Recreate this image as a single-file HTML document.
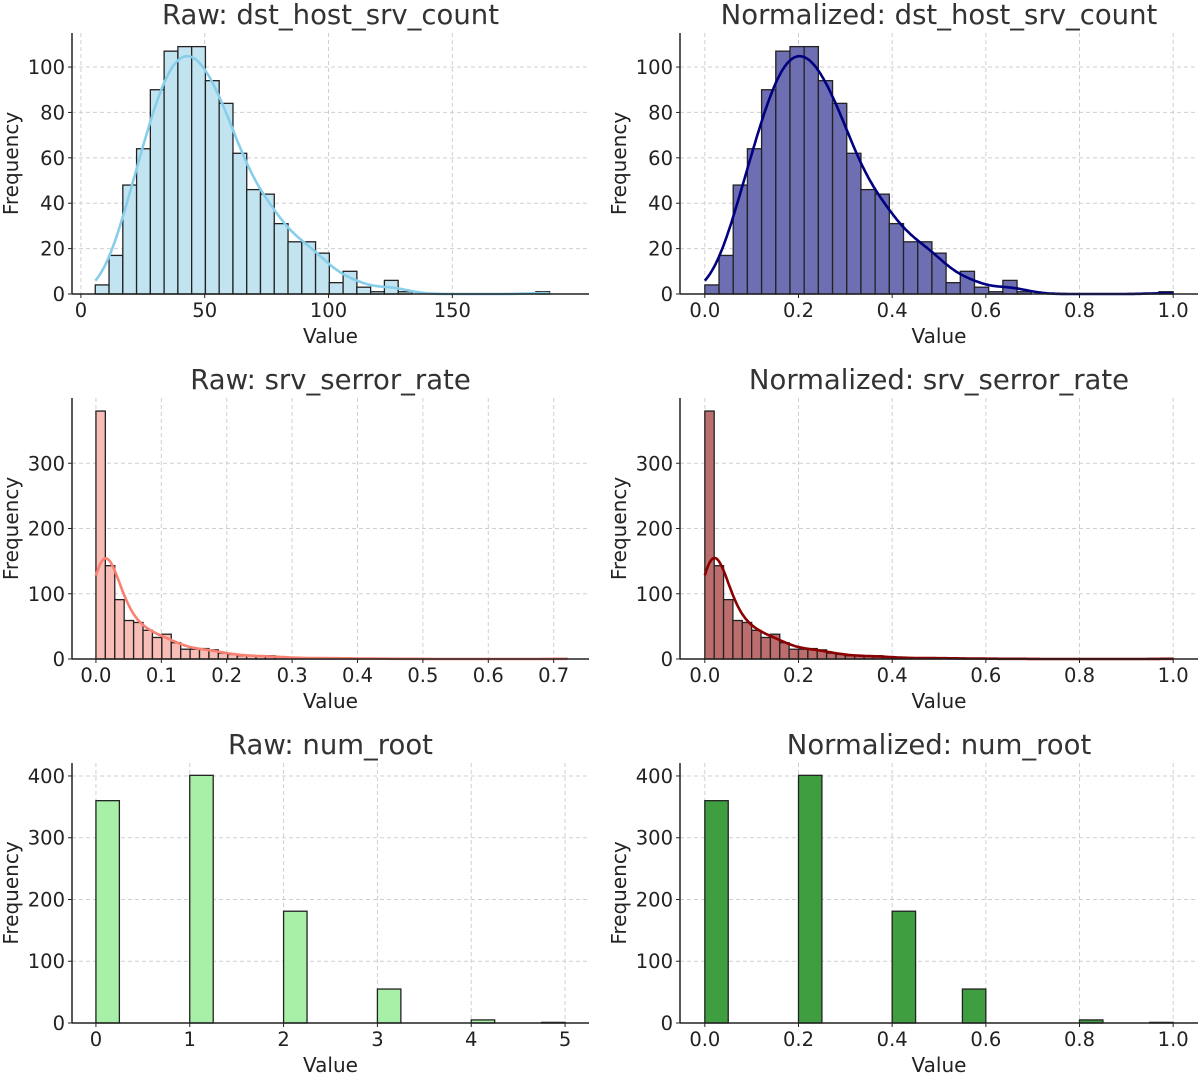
<!DOCTYPE html>
<html><head><meta charset="utf-8">
<style>
html,body{margin:0;padding:0;background:#fff;}
svg{display:block;font-family:"DejaVu Sans","Liberation Sans",sans-serif;}
</style></head>
<body>
<svg id="fig" width="1200" height="1074" viewBox="0 0 1200 1074" xmlns="http://www.w3.org/2000/svg"></svg>
<script>
// ---- data ----
const dstCounts = [4,17,48,64,90,107,109,109,94,84,62,46,44,31,23,23,18,5,10,3,1,6,1,0,0,0,0,0,0,0,0,0,1];
const srvCounts = [380,143,91,59,56,44,33,38,25,15,15,16,14,9,7,5,5,4,5,3,2,2,1,1,2,1,1,1,1,0,1,0,0,1,0,0,0,0,0,0,0,0,0,0,0,0,0,0,0,1];
const rootRawCounts = [360,0,0,0,401,0,0,0,181,0,0,0,55,0,0,0,5,0,0,1];
const rootNormCounts = [360,0,0,0,401,0,0,0,181,0,0,55,0,0,0,0,5,0,0,1];
const dstRawTicks = [0,50,100,150];
const normTicks = [0.0,0.2,0.4,0.6,0.8,1.0];
const srvRawTicks = [0.0,0.1,0.2,0.3,0.4,0.5,0.6,0.7];
const rootRawTicks = [0,1,2,3,4,5];
const yTicksTop = [0,20,40,60,80,100];
const yTicksMid = [0,100,200,300];
const yTicksBot = [0,100,200,300,400];

const NS = "http://www.w3.org/2000/svg";
const fig = document.getElementById('fig');
function mk(tag, attrs, parent){
  const e = document.createElementNS(NS, tag);
  for (const k in attrs) e.setAttribute(k, attrs[k]);
  (parent||fig).appendChild(e);
  return e;
}

function panel(cfg){
  const g = mk('g', {});
  
  
  const L = cfg.left, R = cfg.right, T = cfg.top, B = cfg.bottom;
  const sx = v => L + (v - cfg.xmin) / (cfg.xmax - cfg.xmin) * (R - L);
  const sy = v => B - (v / cfg.ymax) * (B - T);
  cfg.xticks.forEach(t => {
    const l = mk('line', {x1:sx(t), x2:sx(t), y1:T, y2:B, stroke:'#cfcfcf', 'stroke-width':1, 'stroke-dasharray':'4,3'}, g);
    
    
  });
  cfg.yticks.forEach(t => {
    const l = mk('line', {x1:L, x2:R, y1:sy(t), y2:sy(t), stroke:'#cfcfcf', 'stroke-width':1, 'stroke-dasharray':'4,3'}, g);
    
    
  });
  const n = cfg.counts.length;
  const bw = (cfg.hmax - cfg.hmin) / n;
  cfg.counts.forEach((c, i) => {
    if (c <= 0) return;
    const x0 = sx(cfg.hmin + i*bw), x1 = sx(cfg.hmin + (i+1)*bw);
    const r = mk('rect', {x:x0, y:sy(c), width:x1-x0, height:sy(0)-sy(c), fill:cfg.fill, stroke:'#222', 'stroke-width':1.3}, g);
    
    
  });
  if (cfg.bw) {
    const centers = cfg.counts.map((c,i)=>cfg.hmin + (i+0.5)*bw);
    let pts = [];
    for (let k=0;k<=300;k++){
      const x = cfg.hmin + (cfg.hmax - cfg.hmin)*k/300;
      let d = 0;
      centers.forEach((m,i)=>{ const z=(x-m)/cfg.bw; d += cfg.counts[i]*Math.exp(-0.5*z*z); });
      d = d / (cfg.bw*Math.sqrt(2*Math.PI)) * bw;
      pts.push(sx(x).toFixed(1)+','+sy(d).toFixed(1));
    }
    const p = mk('polyline', {points:pts.join(' '), fill:'none', stroke:cfg.kde, 'stroke-width':2.6}, g);
    
    
  }
  const sl = mk('line', {x1:L, x2:L, y1:T, y2:B, stroke:'#222', 'stroke-width':1.5}, g);
  
  
  const sb = mk('line', {x1:L, x2:R, y1:B, y2:B, stroke:'#222', 'stroke-width':1.5}, g);
  
  
  cfg.xticks.forEach(t => {
    mk('line', {x1:sx(t), x2:sx(t), y1:B, y2:B+4, stroke:'#222', 'stroke-width':1}, g);
    const tx = mk('text', {x:sx(t), y:B+23, 'text-anchor':'middle', 'font-size':19.5, fill:'#222'}, g);
    tx.textContent = cfg.xfmt(t);
    
    
  });
  cfg.yticks.forEach(t => {
    mk('line', {x1:L-4, x2:L, y1:sy(t), y2:sy(t), stroke:'#222', 'stroke-width':1}, g);
    const ty = mk('text', {x:L-7, y:sy(t)+7, 'text-anchor':'end', 'font-size':19.5, fill:'#222'}, g);
    ty.textContent = t;
    
    
  });
  const title = mk('text', {x:(L+R)/2, y:T-9, 'text-anchor':'middle', 'font-size':27.5, fill:'#333'}, g);
  title.textContent = cfg.title;
  
  
  const xl = mk('text', {x:(L+R)/2, y:B+49, 'text-anchor':'middle', 'font-size':20, fill:'#222'}, g);
  xl.textContent = 'Value';
  
  
  const yl = mk('text', {x:0, y:0, 'text-anchor':'middle', 'font-size':20, fill:'#222', transform:`translate(${cfg.ylabX},${(T+B)/2}) rotate(-90)`}, g);
  yl.textContent = 'Frequency';
  
  
}

const f1 = t => t.toFixed(1);
const fi = t => String(t);
const LEFT = {left:72, right:589, ylabX:18};
const RIGHT = {left:680, right:1198, ylabX:626};
const rows = [{top:33,bottom:294},{top:398,bottom:659},{top:763,bottom:1023}];

panel(Object.assign({name:'raw-dst-host-srv-count-chart', title:'Raw: dst_host_srv_count', counts:dstCounts, hmin:5.8, hmax:189.3, xmin:-3.6, xmax:205.2, ymax:115, xticks:dstRawTicks, yticks:yTicksTop, xfmt:fi, fill:'#c2e4f1', kde:'#87ceeb', bw:6.6}, LEFT, rows[0]));
panel(Object.assign({name:'normalized-dst-host-srv-count-chart', title:'Normalized: dst_host_srv_count', counts:dstCounts, hmin:0, hmax:1, xmin:-0.053, xmax:1.053, ymax:115, xticks:normTicks, yticks:yTicksTop, xfmt:f1, fill:'#6e6eb2', kde:'#000080', bw:0.036}, RIGHT, rows[0]));
panel(Object.assign({name:'raw-srv-serror-rate-chart', title:'Raw: srv_serror_rate', counts:srvCounts, hmin:0, hmax:0.72, xmin:-0.0366, xmax:0.754, ymax:400, xticks:srvRawTicks, yticks:yTicksMid, xfmt:f1, fill:'#f8bdb6', kde:'#fa8072', bw:0.021}, LEFT, rows[1]));
panel(Object.assign({name:'normalized-srv-serror-rate-chart', title:'Normalized: srv_serror_rate', counts:srvCounts, hmin:0, hmax:1, xmin:-0.053, xmax:1.053, ymax:400, xticks:normTicks, yticks:yTicksMid, xfmt:f1, fill:'#bc6e6e', kde:'#8b0000', bw:0.029}, RIGHT, rows[1]));
panel(Object.assign({name:'raw-num-root-chart', title:'Raw: num_root', counts:rootRawCounts, hmin:0, hmax:5, xmin:-0.255, xmax:5.255, ymax:421, xticks:rootRawTicks, yticks:yTicksBot, xfmt:fi, fill:'#a8f0a8', kde:null, bw:0}, LEFT, rows[2]));
panel(Object.assign({name:'normalized-num-root-chart', title:'Normalized: num_root', counts:rootNormCounts, hmin:0, hmax:1, xmin:-0.053, xmax:1.053, ymax:421, xticks:normTicks, yticks:yTicksBot, xfmt:f1, fill:'#3f9e3f', kde:null, bw:0}, RIGHT, rows[2]));
</script>
</body></html>
